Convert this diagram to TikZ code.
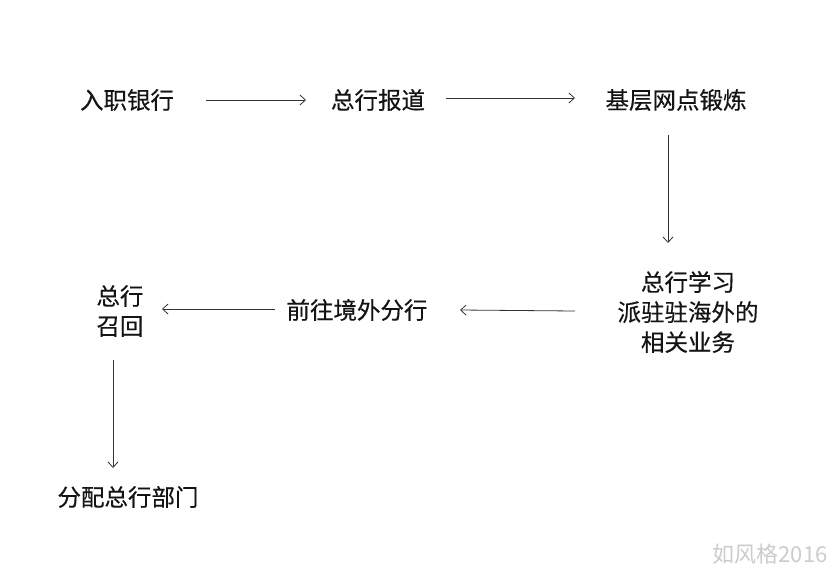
\documentclass[tikz,border=0pt]{standalone}
\usepackage{fontspec}
\setmainfont{Noto Sans CJK SC}[FakeBold=0.4]
\newfontfamily\wmfont{Noto Sans CJK SC}
\usetikzlibrary{arrows.meta}
\begin{document}
\begin{tikzpicture}[x=1pt,y=-1pt,
  lbl/.style={inner sep=0pt,font=\fontsize{23.5}{30}\selectfont,align=center,text=black!92},
  arr/.style={line width=0.8pt,draw=black!80,-{Straight Barb[length=5.5pt,width=10pt,line width=0.8pt]}},
  wm/.style={inner sep=0pt,font=\wmfont\fontsize{22}{24}\selectfont,text=black!20}]
\useasboundingbox[fill=white] (0,0) rectangle (838,576);
\node[lbl] (a) at (127,100) {入职银行};
\node[lbl] (b) at (378,100) {总行报道};
\node[lbl] (c) at (676,100) {基层网点锻炼};
\node[lbl] (d) at (688,312) {总行学习\\派驻驻海外的\\相关业务};
\node[lbl] (e) at (357,310) {前往境外分行};
\node[lbl] (f) at (120,311) {总行\\召回};
\node[lbl] (g) at (128,497) {分配总行部门};
\node[wm] (w) at (770,554) {如风格2016};
\draw[arr] ([shift={(79,0)}]a.center) -- ([shift={(-72,0)}]b.center);
\draw[arr] ([shift={(68,-2)}]b.center) -- ([shift={(-101,-2)}]c.center);
\draw[arr] ([shift={(-8,35)}]c.center) -- ([shift={(-20,-69)}]d.center);
\draw[arr] ([shift={(-113,-1)}]d.center) -- ([shift={(103,0)}]e.center);
\draw[arr] ([shift={(-82,-1)}]e.center) -- ([shift={(42,-2)}]f.center);
\draw[arr] ([shift={(-7,49)}]f.center) -- ([shift={(-15,-29)}]g.center);
\end{tikzpicture}
\end{document}
